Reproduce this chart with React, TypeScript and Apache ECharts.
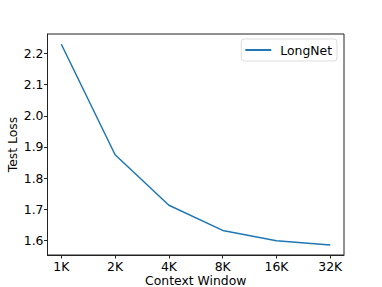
import React, { useEffect, useRef } from "react";
import * as echarts from "echarts";

const categories = ["1K", "2K", "4K", "8K", "16K", "32K"];
const longNet = [2.23, 1.875, 1.713, 1.632, 1.599, 1.585];
const yTicks = [1.6, 1.7, 1.8, 1.9, 2.0, 2.1, 2.2];
const seriesName = "LongNet";

export default function App() {
  const ref = useRef<HTMLDivElement>(null);
  useEffect(() => {
    const chart = echarts.init(ref.current!, null, { renderer: "svg" });
    const xIdx = categories.map((_, i) => i);
    const font = "DejaVu Sans";
    const fs = 12.4;
    chart.setOption({
      animation: false,
      backgroundColor: "#fff",
      textStyle: { fontFamily: font },
      grid: {
        left: 47.5,
        right: 38,
        top: 34,
        bottom: 32,
        outerBoundsMode: "none",
        containLabel: false,
        show: true,
        borderColor: "#222",
        borderWidth: 1,
        backgroundColor: "transparent",
      },
      legend: {
        data: [seriesName],
        right: 45,
        top: 39,
        orient: "vertical",
        itemWidth: 26,
        itemHeight: 2,
        itemGap: 6,
        padding: [5, 5, 5, 4],
        borderColor: "#ddd",
        borderWidth: 1,
        borderRadius: 3,
        backgroundColor: "#fff",
        icon: "rect",
        textStyle: { fontFamily: font, fontSize: fs, color: "#000", padding: [0, 0, 0, 4] },
      },
      xAxis: {
        type: "value",
        min: -0.257,
        max: 5.255,
        name: "Context Window",
        nameLocation: "middle",
        nameGap: 25,
        nameMoveOverlap: false,
        nameTextStyle: { fontFamily: font, fontSize: fs, color: "#000", verticalAlign: "middle", lineHeight: 13 },
        axisLine: { show: true, onZero: false, lineStyle: { color: "#222", width: 1 } },
        axisTick: { show: true, length: 3.5, lineStyle: { color: "#222" }, customValues: xIdx },
        axisLabel: {
          color: "#000",
          fontSize: fs,
          fontFamily: font,
          lineHeight: 13,
          margin: 5,
          customValues: xIdx,
          formatter: (v: number) => categories[Math.round(v)] ?? "",
        },
        splitLine: { show: false },
      },
      yAxis: {
        type: "value",
        min: 1.553,
        max: 2.263,
        name: "Test Loss",
        nameLocation: "middle",
        nameGap: 35,
        nameMoveOverlap: false,
        nameTextStyle: { fontFamily: font, fontSize: fs, color: "#000", verticalAlign: "middle" },
        axisLine: { show: true, onZero: false, lineStyle: { color: "#222", width: 1 } },
        axisTick: { show: true, length: 3.5, lineStyle: { color: "#222" }, customValues: yTicks },
        axisLabel: {
          color: "#000",
          fontSize: fs,
          fontFamily: font,
          margin: 4,
          customValues: yTicks,
          formatter: (v: number) => v.toFixed(1),
        },
        splitLine: { show: false },
      },
      series: [
        {
          name: seriesName,
          type: "line",
          data: longNet.map((v, i) => [i, v]),
          showSymbol: false,
          symbol: "none",
          lineStyle: { color: "#1f77b4", width: 1.5 },
          itemStyle: { color: "#1f77b4" },
        },
      ],
    });
    return () => chart.dispose();
  }, []);
  return (
    <div
      ref={ref}
      style={{ position: "fixed", left: 0, top: 0, width: 382, height: 287 }}
    />
  );
}
